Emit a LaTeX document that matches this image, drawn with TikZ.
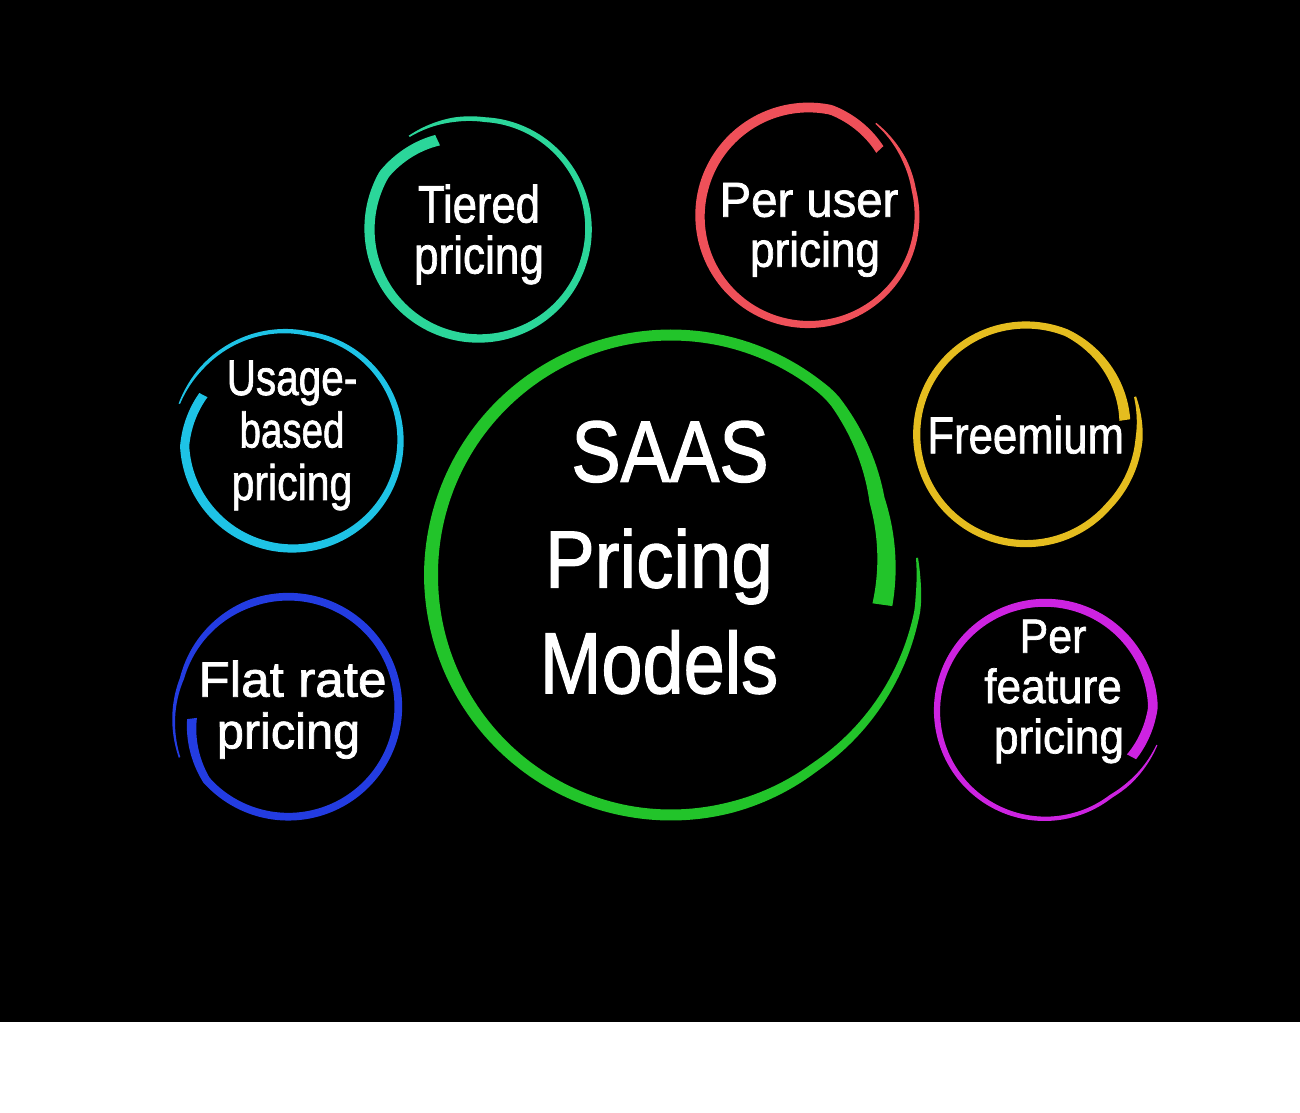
\documentclass[tikz,border=0pt]{standalone}
\usepackage{fontspec}
\setmainfont[FakeBold=1.5]{Liberation Sans}
\usepackage{graphicx}
\definecolor{cTeal}{HTML}{2BD69A}
\definecolor{cRed}{HTML}{EF5059}
\definecolor{cCyan}{HTML}{1EC3E6}
\definecolor{cYellow}{HTML}{E5BD1F}
\definecolor{cBlue}{HTML}{233CE1}
\definecolor{cMagenta}{HTML}{CD23E1}
\definecolor{cGreen}{HTML}{22C42A}
% brush ring: colour, centre, start angle, end angle, radius(\x), width(\x)
\newcommand\brushring[6]{%
  \fill[#1, shift={#2}]
    plot[domain=#3:#4, samples=240, variable=\x] (\x:{(#5)+(#6)/2})
    -- plot[domain=#4:#3, samples=240, variable=\x] (\x:{(#5)-(#6)/2})
    -- cycle;}
\newcommand\tline[3]{\scalebox{#2}[1]{\fontsize{#1}{#1}\selectfont #3}}
\newcommand\offline[2]{\makebox[0pt]{\hspace*{#1}#2}}
\newcommand\labeltext[2]{\vtop{\baselineskip=#1\relax\lineskiplimit=-1000pt\lineskip=0pt\halign{\hfil##\hfil\cr#2\crcr}}}
\begin{document}
\begin{tikzpicture}[x=1pt,y=1pt,
  declare function={hat(\ta,\tb,\tc)=max(0,1-abs((\ta)-(\tb))/(\tc));},
  lbl/.style={text=white, inner sep=0pt, anchor=base}]
\useasboundingbox (0,0) rectangle (1300,1112);
\fill[black] (0,90) rectangle (1300,1112);
\fill[white] (0,0) rectangle (1300,90);

% rings
\brushring{cTeal}{(479,883)}{127}{-245}
  {109.5+6.5*hat(\x,127,40)-11.5*hat(\x,-245,35)}
  {1.15*(3.5+6.5*(127-(\x))/372)*min(1,0.4+(127-(\x))/40)}
\brushring{cRed}{(808.5,896)}{54}{-317}
  {108.5+6*hat(\x,54,40)-11*hat(\x,-317,35)}
  {1.15*(3+5.5*min(1,(54-(\x))/250))*min(1,0.4+(54-(\x))/40)}
\brushring{cCyan}{(292.5,671.5)}{162}{-207}
  {108+11*hat(\x,162,80)-8*hat(\x,-207,30)}
  {1.15*(2.5+5.5*min(1,(162-(\x))/300))*min(1,0.5+(162-(\x))/40)}
\brushring{cYellow}{(1026,677.7)}{19}{-351.8}
  {109.3+6*hat(\x,19,60)-9.5*hat(\x,-351.8,60)}
  {1.1*(6.5+3.5*hat(\x,-351.8,60))*min(1,0.3+(19-(\x))/30)}
\brushring{cBlue}{(288.3,405.3)}{187}{565}
  {110-13*hat(\x,187,35)+10*hat(\x,565,40)}
  {1.1*(7+2*hat(\x,187,40)-5.5*hat(\x,565,95))}
\brushring{cMagenta}{(1045,401.2)}{-17}{-388}
  {108+9*hat(\x,-17,35)-10*hat(\x,-388,30)}
  {1.15*(2.5+6.5*(-17-(\x))/371)*min(1,0.4+(-17-(\x))/40)}
\brushring{cGreen}{(671,537)}{4}{-368}
  {240+9*hat(\x,-8,45)-26*hat(\x,-368,55)-8*hat(\x,-340,30)}
  {(11-6*hat(\x,4,80)+3*hat(\x,-180,80)+9*hat(\x,-368,60))*min(1,0.4+(4-(\x))/15)}

% labels
\node[lbl] (tiered) at (479,889.5) {\labeltext{51pt}{%
  \tline{52.5}{0.83}{Tiered}\cr
  \tline{52.5}{0.84}{pricing}}};
\node[lbl] (peruser) at (809,895.3) {\labeltext{50pt}{%
  \tline{49}{0.965}{Per user}\cr
  \offline{12pt}{\tline{49}{0.90}{pricing}}}};
\node[lbl] (usage) at (292,717) {\labeltext{52.5pt}{%
  \tline{50}{0.81}{Usage-}\cr
  \tline{50}{0.77}{based}\cr
  \tline{50}{0.82}{pricing}}};
\node[lbl] (freemium) at (1025.7,658.7) {\labeltext{52pt}{%
  \tline{52}{0.84}{Freemium}}};
\node[lbl] (flatrate) at (292.5,415.3) {\labeltext{51.7pt}{%
  \tline{49.8}{1.03}{Flat rate}\cr
  \offline{-8pt}{\tline{49.8}{0.977}{pricing}}}};
\node[lbl] (perfeature) at (1053,459.3) {\labeltext{50.3pt}{%
  \tline{48}{0.895}{Per}\cr
  \tline{48}{0.92}{feature}\cr
  \offline{12pt}{\tline{48}{0.92}{pricing}}}};
\node[lbl] (saas) at (659,630.3) {\labeltext{105.8pt}{%
  \offline{22pt}{\tline{87}{0.85}{SAAS}}\cr
  \tline{81}{0.92}{Pricing}\cr
  \tline{87}{0.85}{Models}}};
\end{tikzpicture}
\end{document}
